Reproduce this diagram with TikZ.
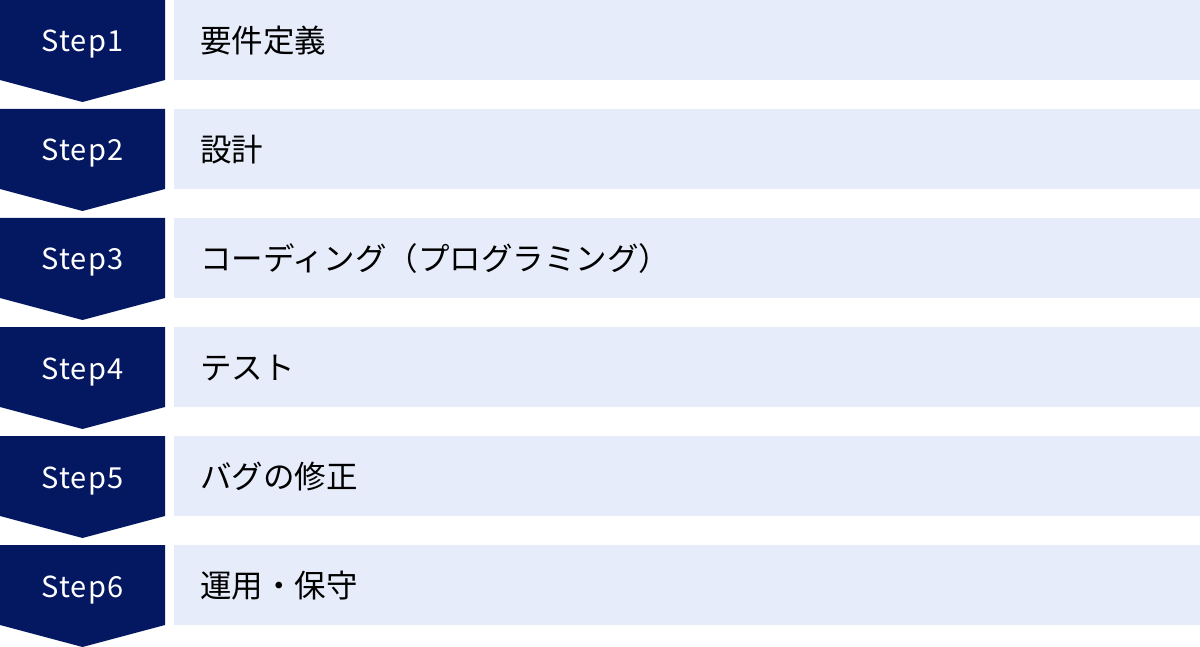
\documentclass[tikz,border=0pt]{standalone}
\usepackage{fontspec}
\setmainfont{Noto Sans CJK JP}
\definecolor{navy}{HTML}{041862}
\definecolor{pale}{HTML}{E6ECF9}
\begin{document}
\begin{tikzpicture}[x=1pt,y=-1pt,
  stepshape/.style={fill=navy,draw=none},
  panel/.style={fill=pale,draw=none},
  steplabel/.style={text=white,font=\fontsize{29}{34}\selectfont\addfontfeatures{LetterSpace=4}\fontseries{l}\selectfont,inner sep=0pt,anchor=base},
  tasklabel/.style={text=black,font=\fontsize{31.5}{36}\selectfont,inner sep=0pt,anchor=base west}]
\useasboundingbox (0,0) rectangle (1200,647);
\foreach \i/\t in {1/要件定義,2/設計,3/コーディング（プログラミング）,4/テスト,5/バグの修正,6/運用・保守}{
  \pgfmathsetmacro\y{(\i-1)*109}
  \fill[stepshape] (0,\y) -- (165,\y) -- (165,\y+80) -- (82.5,\y+102) -- (0,\y+80) -- cycle;
  \fill[panel] (174,\y) rectangle (1200,\y+80);
  \node[steplabel] (s\i) at (82.5,\y+52) {Step\i};
  \node[tasklabel] (t\i) at (200,\y+52.5) {\t};
}
\end{tikzpicture}
\end{document}
